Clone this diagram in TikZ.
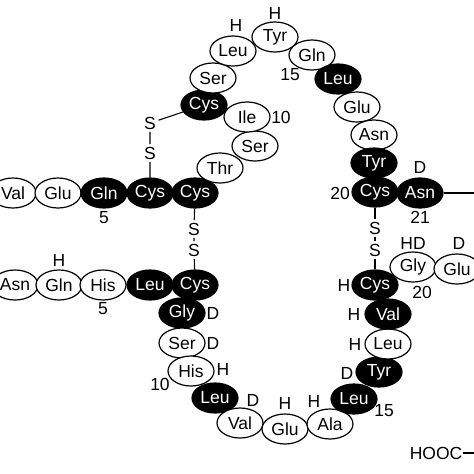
\documentclass[tikz,border=0pt]{standalone}
\usepackage{fontspec}
\setmainfont{Liberation Sans}
\usetikzlibrary{shapes.geometric}

\begin{document}
\begin{tikzpicture}[x=1pt, y=-1pt,
  wres/.style={ellipse, draw=black, line width=1.2pt, fill=white, minimum width=46pt, minimum height=30pt, inner sep=0pt, font=\fontsize{17.5}{19}\selectfont},
  bres/.style={wres, fill=black, text=white},
  tag/.style={inner sep=1pt, font=\fontsize{17.5}{19}\selectfont},
  sulf/.style={tag, inner sep=2.5pt},
  bond/.style={draw=black, line width=1.1pt}]

\useasboundingbox (0,0) rectangle (474,474);
\clip (0,0) rectangle (474,474);

% A chain
\node[wres] (aVal3) at (13,193) {Val};
\node[wres] (aGlu4) at (58,193) {Glu};
\node[bres] (aGln5) at (104,193) {Gln};
\node[bres] (aCys6) at (150,193) {Cys};
\node[bres] (aCys7) at (195,193) {Cys};
\node[wres] (aThr8) at (220,168) {Thr};
\node[wres] (aSer9) at (255,146) {Ser};
\node[wres] (aIle10) at (247,117) {Ile};
\node[bres] (aCys11) at (204,105) {Cys};
\node[wres] (aSer12) at (213,78) {Ser};
\node[wres] (aLeu13) at (233,51) {Leu};
\node[wres] (aTyr14) at (275,37) {Tyr};
\node[wres] (aGln15) at (312,55) {Gln};
\node[bres] (aLeu16) at (338,79) {Leu};
\node[wres] (aGlu17) at (357,107) {Glu};
\node[wres] (aAsn18) at (374,135) {Asn};
\node[bres] (aTyr19) at (374,163) {Tyr};
\node[bres] (aCys20) at (375,192) {Cys};
\node[bres] (aAsn21) at (420,193) {Asn};
\coordinate (aEnd) at (474,193);

% B chain
\node[wres] (bAsn3) at (15,285) {Asn};
\node[wres] (bGln4) at (59,285) {Gln};
\node[wres] (bHis5) at (103,285) {His};
\node[bres] (bLeu6) at (150,285) {Leu};
\node[bres] (bCys7) at (195,285) {Cys};
\node[bres] (bGly8) at (182,313) {Gly};
\node[wres] (bSer9) at (182,343) {Ser};
\node[wres] (bHis10) at (191,371) {His};
\node[bres] (bLeu11) at (215,398) {Leu};
\node[wres] (bVal12) at (240,423) {Val};
\node[wres] (bGlu13) at (285,429) {Glu};
\node[wres] (bAla14) at (330,424) {Ala};
\node[bres] (bLeu15) at (354,399) {Leu};
\node[bres] (bTyr16) at (379,372) {Tyr};
\node[wres] (bLeu17) at (388,344) {Leu};
\node[bres] (bVal18) at (388,314) {Val};
\node[bres] (bCys19) at (375,285) {Cys};
\node[wres] (bGly20) at (413,267) {Gly};
\node[wres] (bGlu21) at (457,269) {Glu};

\node[tag] (hooc) at (436,453) {HOOC};
\coordinate (bEnd) at (474,453);

% disulfide bridges
\node[sulf] (sA1) at (150,123) {S};
\node[sulf] (sA2) at (150,153) {S};
\node[sulf] (sB1) at (194,229) {S};
\node[sulf] (sB2) at (194,250) {S};
\node[sulf] (sC1) at (375,228) {S};
\node[sulf] (sC2) at (375,250) {S};

\draw[bond] (aCys11) -- (sA1) -- (sA2) -- (aCys6);
\draw[bond] (aCys7) -- (sB1) -- (sB2) -- (bCys7);
\draw[bond] (aCys20) -- (sC1) -- (sC2) -- (bCys19);
\draw[bond] (aAsn21) -- (aEnd);
\draw[bond] (hooc) -- (bEnd);

% exchange marks
\node[tag] (hLeu13) at (236,25) {H};
\node[tag] (hTyr14) at (275,13) {H};
\node[tag] (dAsn21) at (420,167) {D};
\node[tag] (hGln4) at (59,260) {H};
\node[tag] (dGly8) at (213,313) {D};
\node[tag] (dSer9) at (213,343) {D};
\node[tag] (hHis10) at (223,369) {H};
\node[tag] (dLeu11) at (253,400) {D};
\node[tag] (hGlu13) at (285,403) {H};
\node[tag] (hAla14) at (314,401) {H};
\node[tag] (dTyr16) at (347,373) {D};
\node[tag] (hLeu17) at (355,344) {H};
\node[tag] (hVal18) at (354,314) {H};
\node[tag] (hCys19) at (344,285) {H};
\node[tag] (hdGly20) at (413,243) {HD};
\node[tag] (dGlu21) at (459,243) {D};

% residue numbers
\node[tag] (nA5) at (104,218) {5};
\node[tag] (nA10) at (281,117) {10};
\node[tag] (nA15) at (290,75) {15};
\node[tag] (nA20) at (340,193) {20};
\node[tag] (nA21) at (420,217) {21};
\node[tag] (nB5) at (103,309) {5};
\node[tag] (nB10) at (160,384) {10};
\node[tag] (nB15) at (384,411) {15};
\node[tag] (nB20) at (422,292) {20};

\end{tikzpicture}
\end{document}
